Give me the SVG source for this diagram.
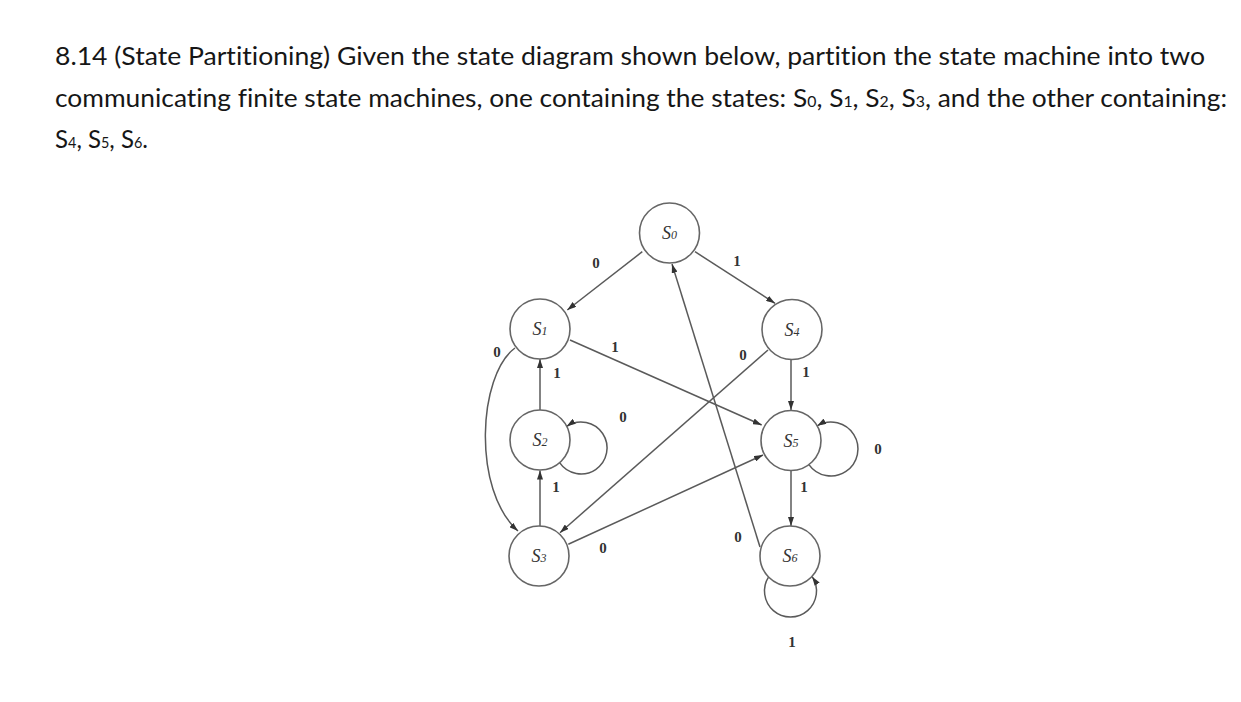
<svg xmlns="http://www.w3.org/2000/svg" width="1241" height="702" viewBox="0 0 1241 702">
<style>
.title{font-family:Lato,"Open Sans","Noto Sans",sans-serif;font-size:25px;fill:#161616;font-variant-ligatures:none}
.sub{font-size:15px}
.st{fill:#fff;stroke:#666;stroke-width:1.6}
.sl{font-family:"Liberation Serif","DejaVu Serif",serif;font-style:italic;font-size:18px;fill:#333;text-anchor:middle}
.ss{font-size:12px}
.e{fill:none;stroke:#5a5a5a;stroke-width:1.5;marker-end:url(#ah)}
.el{font-family:"Liberation Serif","DejaVu Serif",serif;font-weight:bold;font-size:15px;fill:#333;text-anchor:middle}
</style>
<defs>
<marker id="ah" markerUnits="userSpaceOnUse" markerWidth="9" markerHeight="6" refX="9" refY="3" orient="auto">
<path d="M0,0 L9,3 L0,6 z" fill="#333"/>
</marker>
</defs>
<rect width="1241" height="702" fill="#fff"/>
<g id="question">
<text class="title" x="55" y="65" textLength="1150" lengthAdjust="spacingAndGlyphs">8.14 (State Partitioning) Given the state diagram shown below, partition the state machine into two</text>
<text class="title" x="55" y="107" textLength="1172" lengthAdjust="spacingAndGlyphs">communicating finite state machines, one containing the states: S<tspan class="sub">0</tspan>, S<tspan class="sub">1</tspan>, S<tspan class="sub">2</tspan>, S<tspan class="sub">3</tspan>, and the other containing:</text>
<text class="title" x="55" y="148" textLength="93" lengthAdjust="spacingAndGlyphs">S<tspan class="sub">4</tspan>, S<tspan class="sub">5</tspan>, S<tspan class="sub">6</tspan>.</text>
</g>
<g id="connectors">
<path class="e" d="M642.3 251.7 L567.3 310"/>
<path class="e" d="M695 251.7 L775 303.3"/>
<path class="e" d="M570 340 L761.7 425"/>
<path class="e" d="M768 350 L560 532.7"/>
<path class="e" d="M791 359.5 L791 410"/>
<path class="e" d="M791 470.5 L791 526"/>
<path class="e" d="M760 547 L672 264"/>
<path class="e" d="M568.3 544.3 L763 455"/>
<path class="e" d="M540 410 L540 359"/>
<path class="e" d="M540 526 L540 470.5"/>
<path class="e" d="M515 348 C478 375 472 490 518 531"/>
<path class="e" d="M559.6 462.7 A26 26 0 1 0 566.7 426.3"/>
<path class="e" d="M808.9 464.6 A27 27 0 1 0 817.2 425.8"/>
<path class="e" d="M768.8 576.7 A26 26 0 1 0 812.2 576.7"/>
<text class="el" x="596" y="268">0</text>
<text class="el" x="737" y="266">1</text>
<text class="el" x="615" y="352">1</text>
<text class="el" x="743" y="360">0</text>
<text class="el" x="806" y="377">1</text>
<text class="el" x="878" y="454">0</text>
<text class="el" x="804" y="492">1</text>
<text class="el" x="792" y="647">1</text>
<text class="el" x="738" y="542">0</text>
<text class="el" x="603" y="553">0</text>
<text class="el" x="557" y="378">1</text>
<text class="el" x="623" y="422">0</text>
<text class="el" x="556" y="492">1</text>
<text class="el" x="497" y="357">0</text>
</g>
<g id="S0"><circle class="st" cx="669.5" cy="233" r="30"/><text class="sl" x="669.5" y="239">S<tspan class="ss">0</tspan></text></g>
<g id="S1"><circle class="st" cx="540" cy="329" r="30"/><text class="sl" x="540" y="335">S<tspan class="ss">1</tspan></text></g>
<g id="S2"><circle class="st" cx="540" cy="440" r="30"/><text class="sl" x="540" y="446">S<tspan class="ss">2</tspan></text></g>
<g id="S3"><circle class="st" cx="539" cy="556" r="30"/><text class="sl" x="539" y="562">S<tspan class="ss">3</tspan></text></g>
<g id="S4"><circle class="st" cx="792" cy="329.5" r="30"/><text class="sl" x="792" y="335.5">S<tspan class="ss">4</tspan></text></g>
<g id="S5"><circle class="st" cx="791" cy="440.5" r="30"/><text class="sl" x="791" y="446.5">S<tspan class="ss">5</tspan></text></g>
<g id="S6"><circle class="st" cx="790" cy="556" r="30"/><text class="sl" x="790" y="562">S<tspan class="ss">6</tspan></text></g>
</svg>
